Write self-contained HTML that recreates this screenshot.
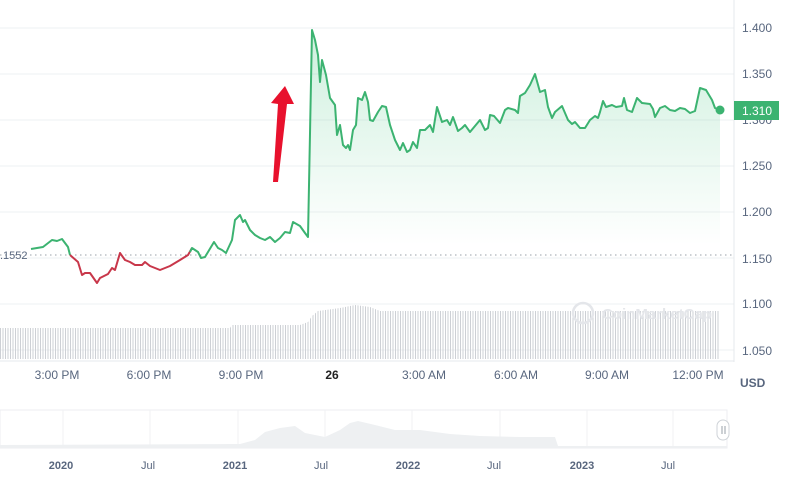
<!DOCTYPE html>
<html><head><meta charset="utf-8"><style>
body{margin:0;background:#fff;width:795px;height:481px;overflow:hidden;font-family:"Liberation Sans",sans-serif}
</style></head><body>
<svg width="795" height="481" xmlns="http://www.w3.org/2000/svg" style="position:absolute;left:0;top:0">
<defs>
<linearGradient id="gf" x1="0" y1="0" x2="0" y2="1"><stop offset="0" stop-color="#3cc27a" stop-opacity="0.25"/><stop offset="1" stop-color="#3cc27a" stop-opacity="0.0"/></linearGradient>
<pattern id="vb" width="2.5" height="10" patternUnits="userSpaceOnUse"><rect x="0" y="0" width="1" height="10" fill="#cdd0d5"/></pattern>
</defs>
<g stroke="#eef0f3" stroke-width="1">
<line x1="0" y1="28" x2="734" y2="28"/><line x1="0" y1="74" x2="734" y2="74"/><line x1="0" y1="120" x2="734" y2="120"/><line x1="0" y1="166" x2="734" y2="166"/><line x1="0" y1="212" x2="734" y2="212"/><line x1="0" y1="258" x2="734" y2="258"/><line x1="0" y1="304" x2="734" y2="304"/><line x1="0" y1="350" x2="734" y2="350"/>
</g>
<line x1="734" y1="0" x2="734" y2="362" stroke="#e6e8ec"/>
<line x1="0" y1="361" x2="734" y2="361" stroke="#e6e8ec"/>
<path d="M0 328 L230 328 L232 325 L300 325 L308 322 L312 316 L318 311 L340 308 L355 305 L370 307 L380 311 L720 311 L720 359 L0 359 Z" fill="url(#vb)"/>
<text x="602" y="319" font-size="15" font-weight="bold" fill="#e4e6ea">CoinMarketCap</text>
<circle cx="583" cy="313" r="10" fill="none" stroke="#e4e6ea" stroke-width="2.5"/>
<path d="M308 237 L312 30 L315 40 L318 55 L320 82 L322 60 L326 75 L330 98 L335 105 L337 135 L340 125 L343 145 L346 148 L348 145 L350 150 L353 130 L356 125 L358 98 L362 100 L365 92 L368 102 L370 120 L373 121 L378 112 L382 106 L386 107 L390 125 L395 140 L400 150 L403 143 L407 152 L410 150 L413 142 L417 148 L420 130 L425 130 L430 125 L433 132 L437 107 L442 122 L447 120 L450 125 L453 117 L458 131 L462 128 L465 125 L470 132 L475 126 L480 120 L485 130 L488 128 L490 115 L494 116 L500 123 L505 110 L508 108 L515 110 L518 113 L520 96 L525 93 L530 85 L535 74 L540 92 L545 90 L548 107 L552 118 L555 112 L562 106 L568 120 L572 124 L575 122 L580 128 L585 128 L590 120 L595 116 L598 118 L600 112 L603 101 L606 107 L612 105 L616 107 L622 106 L624 98 L627 110 L632 112 L637 98 L642 103 L650 104 L653 109 L655 117 L660 108 L665 106 L670 110 L675 111 L680 108 L685 109 L690 113 L695 111 L700 88 L706 90 L712 100 L715 108 L720 110 L720 245 L308 245 Z" fill="url(#gf)"/>
<line x1="0" y1="255" x2="734" y2="255" stroke="#9aa0a8" stroke-dasharray="1.5 3.5"/>
<text x="0" y="259" font-size="11" fill="#58667e">.1552</text>
<polyline fill="none" stroke="#3cb371" stroke-width="2" stroke-linejoin="round" points="31,249 43,247 52,240 57,241 62,239 68,247 70,255"/>
<polyline fill="none" stroke="#c8374a" stroke-width="2" stroke-linejoin="round" points="70,255 78,262 82,275 85,273 90,273 97,283 100,278 108,274 112,268 115,270 120,253 125,260 130,262 135,265 142,265 145,262 150,266 160,270 170,266 180,260 188,255 192,248"/>
<polyline fill="none" stroke="#3cb371" stroke-width="2" stroke-linejoin="round" points="190,252 192,248 198,252 201,258 205,257 208,252 214,242 218,248 222,250 226,253 232,240 235,220 240,215 243,222 245,220 250,230 255,235 260,238 265,240 270,237 275,242 280,238 285,232 290,233 293,222 300,226 305,233 308,237 312,30 315,40 318,55 320,82 322,60 326,75 330,98 335,105 337,135 340,125 343,145 346,148 348,145 350,150 353,130 356,125 358,98 362,100 365,92 368,102 370,120 373,121 378,112 382,106 386,107 390,125 395,140 400,150 403,143 407,152 410,150 413,142 417,148 420,130 425,130 430,125 433,132 437,107 442,122 447,120 450,125 453,117 458,131 462,128 465,125 470,132 475,126 480,120 485,130 488,128 490,115 494,116 500,123 505,110 508,108 515,110 518,113 520,96 525,93 530,85 535,74 540,92 545,90 548,107 552,118 555,112 562,106 568,120 572,124 575,122 580,128 585,128 590,120 595,116 598,118 600,112 603,101 606,107 612,105 616,107 622,106 624,98 627,110 632,112 637,98 642,103 650,104 653,109 655,117 660,108 665,106 670,110 675,111 680,108 685,109 690,113 695,111 700,88 706,90 712,100 715,108 720,110"/>
<circle cx="720" cy="110" r="4.5" fill="#3cb371"/>
<polygon points="273,182 278,182 287,104 294,104 285,86 271,103 278,104" fill="#e8112d"/>
<g font-size="12" fill="#58667e">
<text x="742" y="32">1.400</text><text x="742" y="78">1.350</text><text x="742" y="124">1.300</text><text x="742" y="170">1.250</text><text x="742" y="216">1.200</text><text x="742" y="263">1.150</text><text x="742" y="308">1.100</text><text x="742" y="355">1.050</text>
</g>
<rect x="734" y="101" width="45" height="19" fill="#3cb371"/>
<text x="742" y="115" font-size="12" fill="#fff">1.310</text>
<g font-size="12" fill="#58667e" text-anchor="middle">
<text x="57" y="379">3:00 PM</text><text x="149" y="379">6:00 PM</text><text x="241" y="379">9:00 PM</text><text x="332" y="379" font-weight="bold" fill="#222">26</text><text x="424" y="379">3:00 AM</text><text x="516" y="379">6:00 AM</text><text x="607" y="379">9:00 AM</text><text x="698" y="379">12:00 PM</text>
</g>
<text x="740" y="387" font-size="12" font-weight="bold" fill="#58667e">USD</text>
<rect x="0" y="410" width="727" height="38" fill="#fff" stroke="#eceef1"/>
<g stroke="#f0f1f3"><line x1="63" y1="410" x2="63" y2="448"/><line x1="150" y1="410" x2="150" y2="448"/><line x1="238" y1="410" x2="238" y2="448"/><line x1="325" y1="410" x2="325" y2="448"/><line x1="412" y1="410" x2="412" y2="448"/><line x1="500" y1="410" x2="500" y2="448"/><line x1="587" y1="410" x2="587" y2="448"/><line x1="673" y1="410" x2="673" y2="448"/></g>
<path d="M0 445 L240 444 L255 440 L265 432 L280 428 L295 426 L305 433 L325 437 L340 430 L350 423 L358 421 L375 425 L395 430 L420 430 L450 434 L480 436 L520 437 L555 437 L558 446 L727 446 L727 448 L0 448 Z" fill="#eef0f2"/>
<rect x="717" y="420" width="12" height="20" rx="6" fill="#fff" stroke="#cfd3d8"/>
<line x1="722" y1="426" x2="722" y2="434" stroke="#9aa0a8"/><line x1="725" y1="426" x2="725" y2="434" stroke="#9aa0a8"/>
<g font-size="11" fill="#58667e" text-anchor="middle">
<text x="61" y="469" font-weight="bold">2020</text><text x="148" y="469">Jul</text><text x="235" y="469" font-weight="bold">2021</text><text x="321" y="469">Jul</text><text x="408" y="469" font-weight="bold">2022</text><text x="494" y="469">Jul</text><text x="582" y="469" font-weight="bold">2023</text><text x="668" y="469">Jul</text>
</g>
</svg>
</body></html>
